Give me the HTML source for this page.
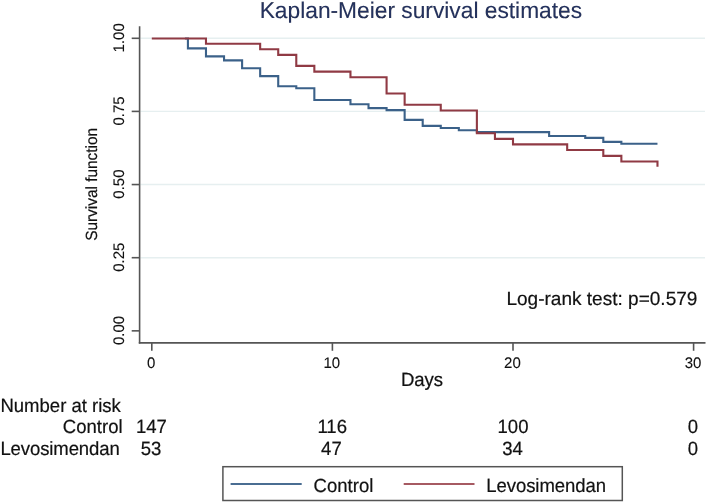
<!DOCTYPE html>
<html><head><meta charset="utf-8"><style>
html,body{margin:0;padding:0;background:#fff;width:709px;height:503px;overflow:hidden}
svg{display:block;filter:blur(0.6px);font-family:"Liberation Sans",sans-serif;fill:#111;text-rendering:geometricPrecision}
text{stroke:#111;stroke-width:0.2px}
</style></head><body>
<svg width="709" height="503" viewBox="0 0 709 503">
<rect width="709" height="503" fill="#fff"/>
<line x1="140.5" y1="38.3" x2="705" y2="38.3" stroke="#e6eff0" stroke-width="1.4"/>
<line x1="140.5" y1="111.4" x2="705" y2="111.4" stroke="#e6eff0" stroke-width="1.4"/>
<line x1="140.5" y1="184.55" x2="705" y2="184.55" stroke="#e6eff0" stroke-width="1.4"/>
<line x1="140.5" y1="257.7" x2="705" y2="257.7" stroke="#e6eff0" stroke-width="1.4"/>
<line x1="139.6" y1="26.3" x2="139.6" y2="343.6" stroke="#555555" stroke-width="1.6"/>
<line x1="138.8" y1="342.9" x2="705.5" y2="342.9" stroke="#555555" stroke-width="1.6"/>
<line x1="131.7" y1="38.3" x2="139.6" y2="38.3" stroke="#555555" stroke-width="1.6"/>
<text transform="translate(124.4 37.85) rotate(-90) scale(1 1.02)" text-anchor="middle" style="stroke-width:0.1px" font-size="15">1.00</text>
<line x1="131.7" y1="111.4" x2="139.6" y2="111.4" stroke="#555555" stroke-width="1.6"/>
<text transform="translate(124.4 110.95) rotate(-90) scale(1 1.02)" text-anchor="middle" style="stroke-width:0.1px" font-size="15">0.75</text>
<line x1="131.7" y1="184.55" x2="139.6" y2="184.55" stroke="#555555" stroke-width="1.6"/>
<text transform="translate(124.4 184.1) rotate(-90) scale(1 1.02)" text-anchor="middle" style="stroke-width:0.1px" font-size="15">0.50</text>
<line x1="131.7" y1="257.7" x2="139.6" y2="257.7" stroke="#555555" stroke-width="1.6"/>
<text transform="translate(124.4 257.25) rotate(-90) scale(1 1.02)" text-anchor="middle" style="stroke-width:0.1px" font-size="15">0.25</text>
<line x1="131.7" y1="330.85" x2="139.6" y2="330.85" stroke="#555555" stroke-width="1.6"/>
<text transform="translate(124.4 330.4) rotate(-90) scale(1 1.02)" text-anchor="middle" style="stroke-width:0.1px" font-size="15">0.00</text>
<line x1="151.8" y1="342.9" x2="151.8" y2="350.8" stroke="#555555" stroke-width="1.6"/>
<text transform="translate(151.2 368.3) scale(1 1.02)" text-anchor="middle" style="stroke-width:0.1px" font-size="15">0</text>
<line x1="332.4" y1="342.9" x2="332.4" y2="350.8" stroke="#555555" stroke-width="1.6"/>
<text transform="translate(331.8 368.3) scale(1 1.02)" text-anchor="middle" style="stroke-width:0.1px" font-size="15">10</text>
<line x1="513.0" y1="342.9" x2="513.0" y2="350.8" stroke="#555555" stroke-width="1.6"/>
<text transform="translate(512.4 368.3) scale(1 1.02)" text-anchor="middle" style="stroke-width:0.1px" font-size="15">20</text>
<line x1="693.6" y1="342.9" x2="693.6" y2="350.8" stroke="#555555" stroke-width="1.6"/>
<text transform="translate(693.0 368.3) scale(1 1.02)" text-anchor="middle" style="stroke-width:0.1px" font-size="15">30</text>
<text transform="translate(96.5 184.4) rotate(-90) scale(1 1.05)" text-anchor="middle" font-size="15.4">Survival function</text>
<text transform="translate(422 386.3) scale(1 1.03)" text-anchor="middle" font-size="18.55">Days</text>
<text transform="translate(420.9 17.9) scale(1 1.0)" text-anchor="middle" fill="#24325f" stroke="#24325f" style="stroke-width:0.1px" font-size="22.76">Kaplan-Meier survival estimates</text>
<text transform="translate(697.4 304.7) scale(1 1.0)" text-anchor="end" font-size="19.05">Log-rank test: p=0.579</text>
<path d="M184.92 38.5 H187.92 V48.4 H205.98 V56.4 H224.04 V60.4 H242.1 V68.3 H260.16 V76.1 H278.22 V86.3 H296.28 V88.2 H314.34 V100.0 H350.46 V104.3 H368.52 V108.1 H386.58 V110.1 H404.64 V119.9 H422.7 V125.9 H440.76 V128.0 H458.82 V130.2 H476.88 V132.1 H549.12 V136.0 H585.24 V137.9 H603.3 V141.9 H621.36 V143.8 H657.48" fill="none" stroke="#3b6189" stroke-width="2.1"/>
<path d="M151.8 38.5 H205.98 V43.8 H260.16 V49.2 H278.22 V54.9 H296.28 V65.9 H314.34 V71.6 H350.46 V77.2 H386.58 V93.5 H404.64 V104.8 H440.76 V110.5 H476.88 V133.2 H494.94 V138.9 H513.0 V144.4 H567.18 V150.0 H603.3 V155.9 H621.36 V161.5 H657.48 V166.8" fill="none" stroke="#903a44" stroke-width="2.1"/>
<text transform="translate(0.4 411.8) scale(1 1.03)" font-size="18.55">Number at risk</text>
<text transform="translate(122.6 433.0) scale(1 1.03)" text-anchor="end" font-size="18.55">Control</text>
<text transform="translate(0.4 454.8) scale(1 1.03)" letter-spacing="-0.11" font-size="18.55">Levosimendan</text>
<text transform="translate(151.4 433.0) scale(1 1.03)" text-anchor="middle" font-size="18.55">147</text>
<text transform="translate(151.0 454.8) scale(1 1.03)" text-anchor="middle" font-size="18.55">53</text>
<text transform="translate(332.2 433.0) scale(1 1.03)" text-anchor="middle" font-size="18.55">116</text>
<text transform="translate(331.4 454.8) scale(1 1.03)" text-anchor="middle" font-size="18.55">47</text>
<text transform="translate(513.0 433.0) scale(1 1.03)" text-anchor="middle" font-size="18.55">100</text>
<text transform="translate(512.6 454.8) scale(1 1.03)" text-anchor="middle" font-size="18.55">34</text>
<text transform="translate(693.0 433.0) scale(1 1.03)" text-anchor="middle" font-size="18.55">0</text>
<text transform="translate(693.0 454.8) scale(1 1.03)" text-anchor="middle" font-size="18.55">0</text>
<rect x="222.9" y="466.7" width="399.4" height="33.8" fill="none" stroke="#555" stroke-width="1.5"/>
<line x1="230.6" y1="483.9" x2="301.7" y2="483.9" stroke="#4a6d92" stroke-width="2"/>
<line x1="403.7" y1="483.9" x2="474.5" y2="483.9" stroke="#a65a62" stroke-width="2"/>
<text transform="translate(313.6 491.6) scale(1 1.03)" font-size="18.55">Control</text>
<text transform="translate(486.2 491.6) scale(1 1.03)" letter-spacing="-0.06" font-size="18.55">Levosimendan</text>
</svg>
</body></html>
